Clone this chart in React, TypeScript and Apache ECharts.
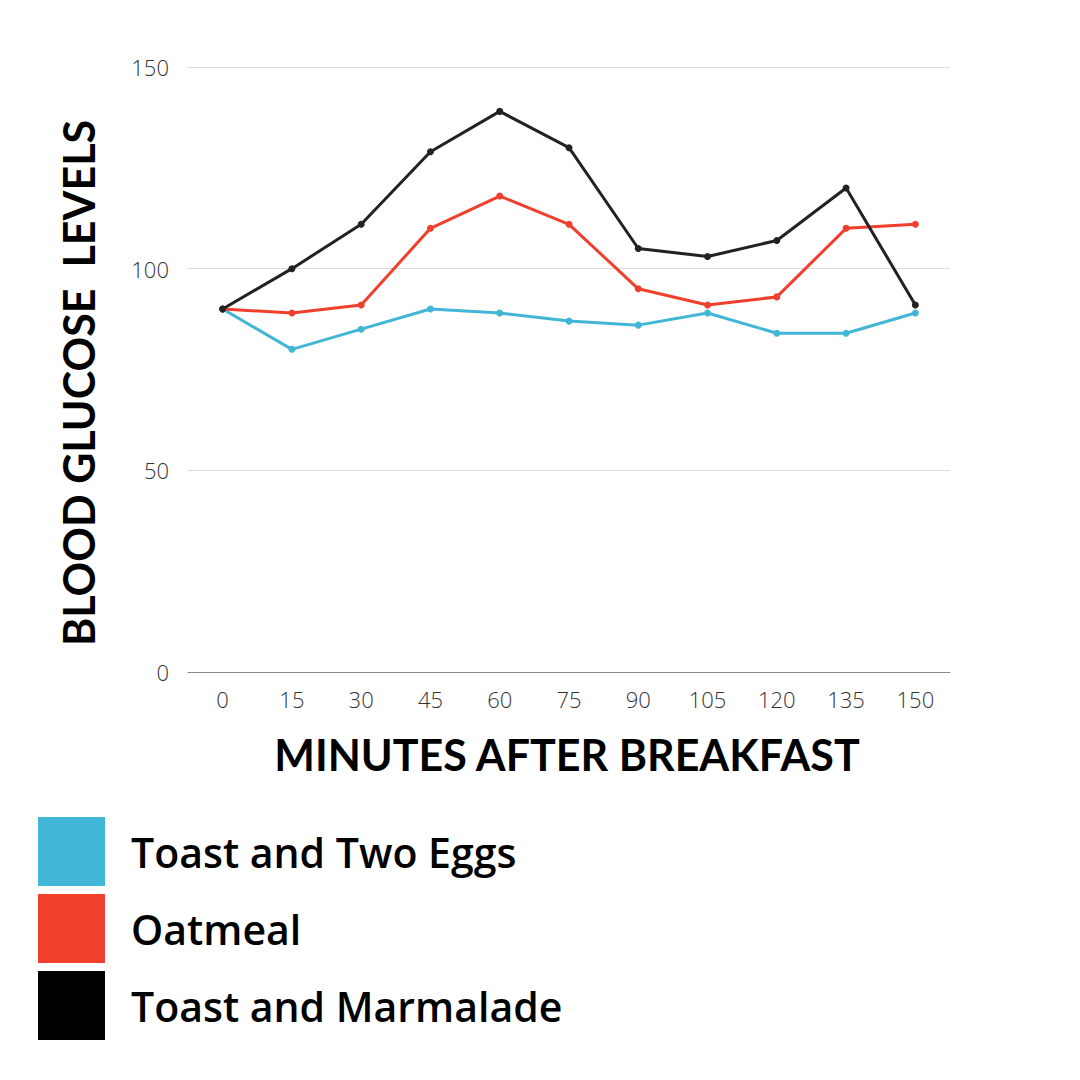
import React, { useEffect, useRef } from "react";
import * as echarts from "echarts";

const categories = ["0", "15", "30", "45", "60", "75", "90", "105", "120", "135", "150"];
const toastEggs = [90, 80, 85, 90, 89, 87, 86, 89, 84, 84, 89];
const oatmeal = [90, 89, 91, 110, 118, 111, 95, 91, 93, 110, 111];
const toastMarmalade = [90, 100, 111, 129, 139, 130, 105, 103, 107, 120, 91];
const seriesNames = ["Toast and Two Eggs", "Oatmeal", "Toast and Marmalade"];
const lineColors = ["#41B6D6", "#EF402D", "#222222"];
const legendColors = ["#41B6D6", "#F1412C", "#000000"];

export default function App() {
  const ref = useRef<HTMLDivElement>(null);
  useEffect(() => {
    document.body.style.margin = "0";
    const chart = echarts.init(ref.current!, null, { renderer: "svg" });
    const data = [toastEggs, oatmeal, toastMarmalade];
    const legendTextBase = {
      fontFamily: "Open Sans",
      fontWeight: 600,
      fontSize: 41,
      color: "#000",
    };
    chart.setOption({
      animation: false,
      backgroundColor: "#ffffff",
      grid: { left: 188, right: 130, top: 67, bottom: 408 },
      xAxis: {
        type: "category",
        data: categories,
        boundaryGap: true,
        axisLine: { lineStyle: { color: "#888", width: 1 } },
        axisTick: { show: false },
        axisLabel: {
          color: "#333",
          fontFamily: "Open Sans",
          fontWeight: 300,
          fontSize: 22,
          margin: 16,
        },
      },
      yAxis: {
        type: "value",
        min: 0,
        max: 150,
        interval: 50,
        axisLine: { show: false },
        axisTick: { show: false },
        splitLine: { lineStyle: { color: "#dcdcdc", width: 1 } },
        axisLabel: {
          color: "#333",
          fontFamily: "Open Sans",
          fontWeight: 300,
          fontSize: 22,
          margin: 19,
        },
      },
      legend: {
        orient: "vertical",
        left: 33,
        top: 812,
        icon: "rect",
        itemWidth: 67,
        itemHeight: 69,
        itemGap: 8,
        selectedMode: false,
        textStyle: { ...legendTextBase, padding: [0, 0, 0, 21] },
        data: seriesNames.map((n, i) => ({
          name: n,
          itemStyle: { color: legendColors[i] },
          textStyle: { ...legendTextBase, padding: i === 0 ? [0, 0, 16, 21] : [0, 0, 0, 21] },
        })),
      },
      graphic: [
        {
          type: "text",
          x: 567,
          y: 733,
          style: {
            text: "MINUTES AFTER BREAKFAST",
            fontFamily: "Lato",
            fontWeight: "bold",
            fontSize: 43,
            fill: "#000",
            align: "center",
          },
        },
        {
          type: "text",
          x: 78,
          y: 383,
          rotation: Math.PI / 2,
          style: {
            text: "BLOOD GLUCOSE  LEVELS",
            fontFamily: "Lato",
            fontWeight: "bold",
            fontSize: 43,
            fill: "#000",
            align: "center",
            verticalAlign: "middle",
          },
        },
      ],
      series: seriesNames.map((n, i) => ({
        name: n,
        type: "line",
        data: data[i],
        symbol: "circle",
        symbolSize: 7,
        lineStyle: { color: lineColors[i], width: 3 },
        itemStyle: { color: lineColors[i] },
        z: 3 + i,
      })),
    });
    return () => chart.dispose();
  }, []);
  return <div ref={ref} style={{ width: 1080, height: 1080 }} />;
}
